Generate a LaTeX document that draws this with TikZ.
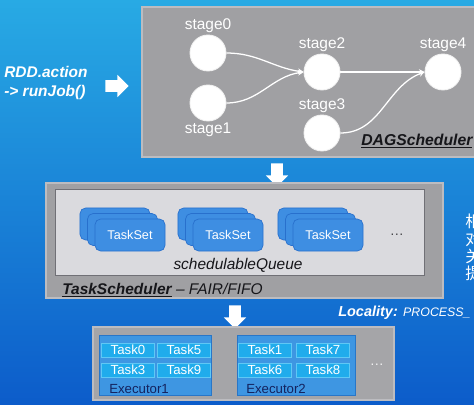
\documentclass[tikz,border=0pt]{standalone}
\usepackage{fontspec}
\setmainfont{Liberation Sans}
\newfontfamily\cjk{Noto Sans CJK SC}
\usepackage{tikz}
\usetikzlibrary{shapes.geometric, shapes.arrows, arrows.meta, positioning, calc}
\definecolor{bgtop}{RGB}{40,170,228}
\definecolor{bgmid}{RGB}{20,118,212}
\definecolor{bgbot}{RGB}{12,92,202}
\definecolor{panelgray}{RGB}{160,160,163}
\definecolor{paneledge}{RGB}{188,188,192}
\definecolor{queuefill}{RGB}{218,218,222}
\definecolor{queueedge}{RGB}{112,112,118}
\definecolor{tsfill}{RGB}{62,142,226}
\definecolor{tsedge}{RGB}{40,112,205}
\definecolor{exfill}{RGB}{62,150,226}
\definecolor{exedge}{RGB}{40,118,200}
\definecolor{taskfill}{RGB}{32,172,236}
\definecolor{taskedge}{RGB}{95,200,245}
\definecolor{navytext}{RGB}{20,35,95}
\definecolor{darktext}{RGB}{22,22,26}
\tikzset{
  panel/.style={draw=paneledge, fill=panelgray, line width=1.2pt},
  stagenode/.style={circle, draw=white!90!gray, fill=white,
    minimum size=0.9cm, inner sep=0pt, line width=0.6pt},
  stagelbl/.style={font=\fontsize{11}{13}\selectfont, text=white, inner sep=1pt},
  flow/.style={-{Stealth[length=4pt,width=4pt]}, white, line width=0.9pt},
  blockarrow/.style={single arrow, fill=white, draw=none, inner sep=0.14cm,
    minimum height=0.58cm, single arrow head extend=0.13cm},
  tsbox/.style={rectangle, draw=tsedge, fill=tsfill, rounded corners=4pt,
    minimum width=1.75cm, minimum height=0.8cm, line width=0.5pt,
    text=white, font=\fontsize{9}{10}\selectfont},
  exbox/.style={rectangle, draw=exedge, fill=exfill, line width=0.6pt},
  taskbox/.style={rectangle, draw=taskedge, fill=taskfill, line width=0.4pt,
    minimum width=1.33cm, minimum height=0.35cm, inner sep=0pt,
    text=white, font=\fontsize{9.4}{10}\selectfont},
  exlbl/.style={anchor=west, text=navytext, font=\fontsize{9.4}{10}\selectfont, inner sep=0pt}
}
\begin{document}
\begin{tikzpicture}[x=0.025cm, y=-0.025cm]
  \useasboundingbox (0,0) rectangle (474,405);
  \shade[top color=bgtop, middle color=bgmid, bottom color=bgbot] (0,0) rectangle (474,405);

  % DAGScheduler
  \draw[panel] (142,7) rectangle (500,157);
  \node[stagenode, label={[stagelbl]above:stage0}] (stage0) at (208,53) {};
  \node[stagenode, label={[stagelbl]below:stage1}] (stage1) at (208,103) {};
  \node[stagenode, label={[stagelbl]above:stage2}] (stage2) at (322,72) {};
  \node[stagenode, label={[stagelbl]above:stage3}] (stage3) at (322,133) {};
  \node[stagenode, label={[stagelbl]above:stage4}] (stage4) at (443,72) {};
  \draw[flow] (stage0.east) to[out=0, in=172] (stage2.west);
  \draw[flow] (stage1.east) to[out=0, in=188] (stage2.west);
  \draw[flow] (stage2.east) -- (stage4.west);
  \draw[flow] (stage3.east) to[out=0, in=200] (stage4.west);
  \node[anchor=west, inner sep=0pt, text=darktext, font=\fontsize{11.2}{13}\selectfont\bfseries\itshape]
    (dagname) at (361,141) {\underline{DAGScheduler}};

  \node[anchor=west, align=left, inner sep=0pt, text=white,
    font=\fontsize{11}{14.2}\selectfont\bfseries\itshape] (action) at (4,83) {RDD.action\\-> runJob()};
  \node[blockarrow] (arr1) at (114,86) {};

  \node[blockarrow, shape border rotate=270] (arr2) at (277,172) {};

  % TaskScheduler
  \draw[panel] (46,183) rectangle (443,298);
  \draw[fill=queuefill, draw=queueedge, line width=0.6pt] (55,189) rectangle (424,275);
  \foreach \n/\cx in {1/130, 2/228, 3/328} {
    \node[tsbox] at (\cx-15,235-11) {};
    \node[tsbox] at (\cx-7.5,235-5.5) {};
    \node[tsbox] (ts\n) at (\cx,235) {TaskSet};
  }
  \node[text=darktext!80, font=\fontsize{10}{12}\selectfont] (qdots) at (397,235) {\ldots};
  \node[text=darktext, font=\fontsize{11}{13}\selectfont\itshape] (queue) at (238,265) {schedulableQueue};
  \node[anchor=west, inner sep=0pt, text=darktext, font=\fontsize{11}{13}\selectfont\itshape]
    (tsname) at (62,290) {\textbf{\underline{TaskScheduler}} -- FAIR/FIFO};

  \node[blockarrow, shape border rotate=270] (arr3) at (235,314) {};
  \node[anchor=west, inner sep=0pt, text=white, font=\fontsize{10.3}{12}\selectfont\bfseries\itshape]
    (locality) at (338,313) {Locality: {\mdseries\fontsize{8.8}{10}\selectfont PROCESS\_}};

  % Executors
  \draw[panel, fill=panelgray!95!white] (93,327) rectangle (394,400);
  \draw[exbox] (99,335) rectangle (211,395);
  \draw[exbox] (237,335) rectangle (355,395);
  \node[taskbox] (task0) at (128,350) {Task0};
  \node[taskbox] (task5) at (184,350) {Task5};
  \node[taskbox] (task3) at (128,370) {Task3};
  \node[taskbox] (task9) at (184,370) {Task9};
  \node[taskbox] (task1) at (265,350) {Task1};
  \node[taskbox] (task7) at (323,350) {Task7};
  \node[taskbox] (task6) at (265,370) {Task6};
  \node[taskbox] (task8) at (323,370) {Task8};
  \node[exlbl] (ex1) at (109,389) {Executor1};
  \node[exlbl] (ex2) at (246,389) {Executor2};
  \node[text=white!90!gray, font=\fontsize{10}{12}\selectfont] (exdots) at (377,365) {\ldots};

  \node[anchor=north west, align=left, inner sep=0pt, text=white,
    font=\cjk\fontsize{11.5}{12.2}\selectfont] (side) at (465,214) {相\\对\\关\\提};
\end{tikzpicture}
\end{document}
